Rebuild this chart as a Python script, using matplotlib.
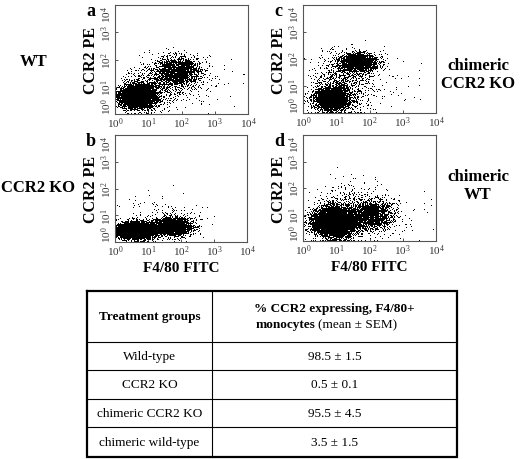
import numpy as np
import matplotlib
matplotlib.use("Agg")
import matplotlib.pyplot as plt

plt.rcParams['font.family'] = ['Liberation Serif', 'DejaVu Serif']
plt.rcParams['mathtext.fontset'] = 'stix'

# populations per panel, in log10 units: (x centre, y centre, x sd, y sd, events)
panel_letters = ['a', 'c', 'b', 'd']
panel_pops = {
    'a': [(0.68, 0.62, 0.27, 0.21, 5500),
          (1.90, 1.55, 0.34, 0.27, 1700),
          (1.30, 1.10, 0.55, 0.45, 800),
          (2.60, 1.20, 0.70, 0.50, 80)],
    'c': [(0.85, 0.50, 0.25, 0.21, 3500),
          (1.65, 1.85, 0.29, 0.17, 2100),
          (1.20, 1.10, 0.50, 0.55, 1000),
          (2.50, 1.20, 0.70, 0.60, 50)],
    'b': [(0.62, 0.40, 0.28, 0.14, 7500),
          (1.75, 0.55, 0.29, 0.17, 2600),
          (1.30, 0.90, 0.60, 0.40, 150)],
    'd': [(0.95, 0.70, 0.31, 0.27, 7500),
          (2.05, 0.95, 0.33, 0.27, 1800),
          (1.40, 1.40, 0.50, 0.45, 350),
          (2.70, 0.90, 0.60, 0.50, 70)],
}
row_labels = ['WT', 'CCR2 KO', 'chimeric\nCCR2 KO', 'chimeric\nWT']

# table
col_headers = ['Treatment groups', '% CCR2 expressing, F4/80+']
groups = ['Wild-type', 'CCR2 KO', 'chimeric CCR2 KO', 'chimeric wild-type']
means = [98.5, 0.5, 95.5, 3.5]
sems = [1.5, 0.1, 4.5, 1.5]

W, H = 520, 460
fig = plt.figure(figsize=(W / 100, H / 100), dpi=100)

def px_axes(left, top, right, bottom):
    return fig.add_axes([left / W, 1 - bottom / H, (right - left) / W, (bottom - top) / H])

boxes = {'a': (115, 6, 248, 115), 'c': (303, 6, 436, 114),
         'b': (115, 136, 247, 243), 'd': (303, 136, 436, 242)}

rng = np.random.default_rng(3)
for letter in panel_letters:
    ax = px_axes(*boxes[letter])
    xs, ys = [], []
    for cx, cy, sx, sy, n in panel_pops[letter]:
        xs.append(rng.normal(cx, sx, n))
        ys.append(rng.normal(cy, sy, n))
    x = np.clip(np.concatenate(xs), 0.01, 3.99)
    y = np.clip(np.concatenate(ys), 0.01, 3.99)
    ax.plot(10 ** x, 10 ** y, ',', color='black')
    ax.set_xscale('log')
    ax.set_yscale('log')
    ax.set_xlim(1, 1e4)
    ax.set_ylim(1, 1e4)
    ax.set_xticks([1, 10, 100, 1000, 10000])
    ax.set_yticks([1, 10, 100, 1000, 10000])
    ax.tick_params(which='major', direction='in', length=2, width=0.6,
                   labelsize=8, pad=1, colors='#333333')
    ax.tick_params(which='minor', direction='in', length=1.2, width=0.5, colors='#555555')
    ax.tick_params(axis='y', which='minor', left=False)
    ylabs = ax.get_yticklabels()
    for lab in ylabs:
        lab.set_rotation(90)
        lab.set_va('center')
    ylabs[0].set_va('bottom')
    ylabs[-1].set_va('top')
    for sp in ax.spines.values():
        sp.set_color('#555555')
        sp.set_linewidth(0.8)
    ax.set_ylabel('CCR2 PE', fontsize=11.5, fontweight='bold', labelpad=0)
    if letter in ('b', 'd'):
        ax.set_xlabel('F4/80 FITC', fontsize=11, fontweight='bold', labelpad=2)
    left, top = boxes[letter][0], boxes[letter][1]
    fig.text((left - 29) / W, 1 - (top + 6) / H, letter, fontsize=13,
             fontweight='bold', ha='left', va='center')

label_pos = [(34, 62), (38, 188), (478, 75), (478, 186)]
for txt, (lx, ly) in zip(row_labels, label_pos):
    fig.text(lx / W, 1 - ly / H, txt, fontsize=12, fontweight='bold',
             ha='center', va='center', linespacing=1.1)

# table drawn in pixel coordinates
tax = fig.add_axes([0, 0, 1, 1])
tax.set_xlim(0, W)
tax.set_ylim(H, 0)
tax.axis('off')
tl, tr, tdiv = 87, 457, 212
row_lines = [292, 343, 371, 400, 428, 458]
tax.plot([tl, tr, tr, tl, tl], [row_lines[0], row_lines[0], row_lines[-1], row_lines[-1], row_lines[0]],
         color='black', lw=1.6, solid_joinstyle='miter')
for yl in row_lines[1:-1]:
    tax.plot([tl, tr], [yl, yl], color='black', lw=0.8)
tax.plot([tdiv, tdiv], [row_lines[0], row_lines[-1]], color='black', lw=0.8)

fs = 9.5
c1 = (tl + tdiv) / 2
c2 = (tdiv + tr) / 2
hy = (row_lines[0] + row_lines[1]) / 2
tax.text(c1, hy, col_headers[0], fontsize=fs, fontweight='bold', ha='center', va='center')
tax.text(c2, hy - 8, col_headers[1], fontsize=fs, fontweight='bold', ha='center', va='center')
tax.text(315, hy + 8, 'monocytes', fontsize=fs, fontweight='bold', ha='right', va='center')
tax.text(318, hy + 8, '(mean \u00b1 SEM)', fontsize=fs, ha='left', va='center')
for i, g in enumerate(groups):
    ry = (row_lines[i + 1] + row_lines[i + 2]) / 2
    tax.text(c1, ry, g, fontsize=fs, ha='center', va='center')
    tax.text(c2, ry, '{} \u00b1 {}'.format(means[i], sems[i]), fontsize=fs,
             ha='center', va='center')

fig.savefig('out.png', dpi=100)
